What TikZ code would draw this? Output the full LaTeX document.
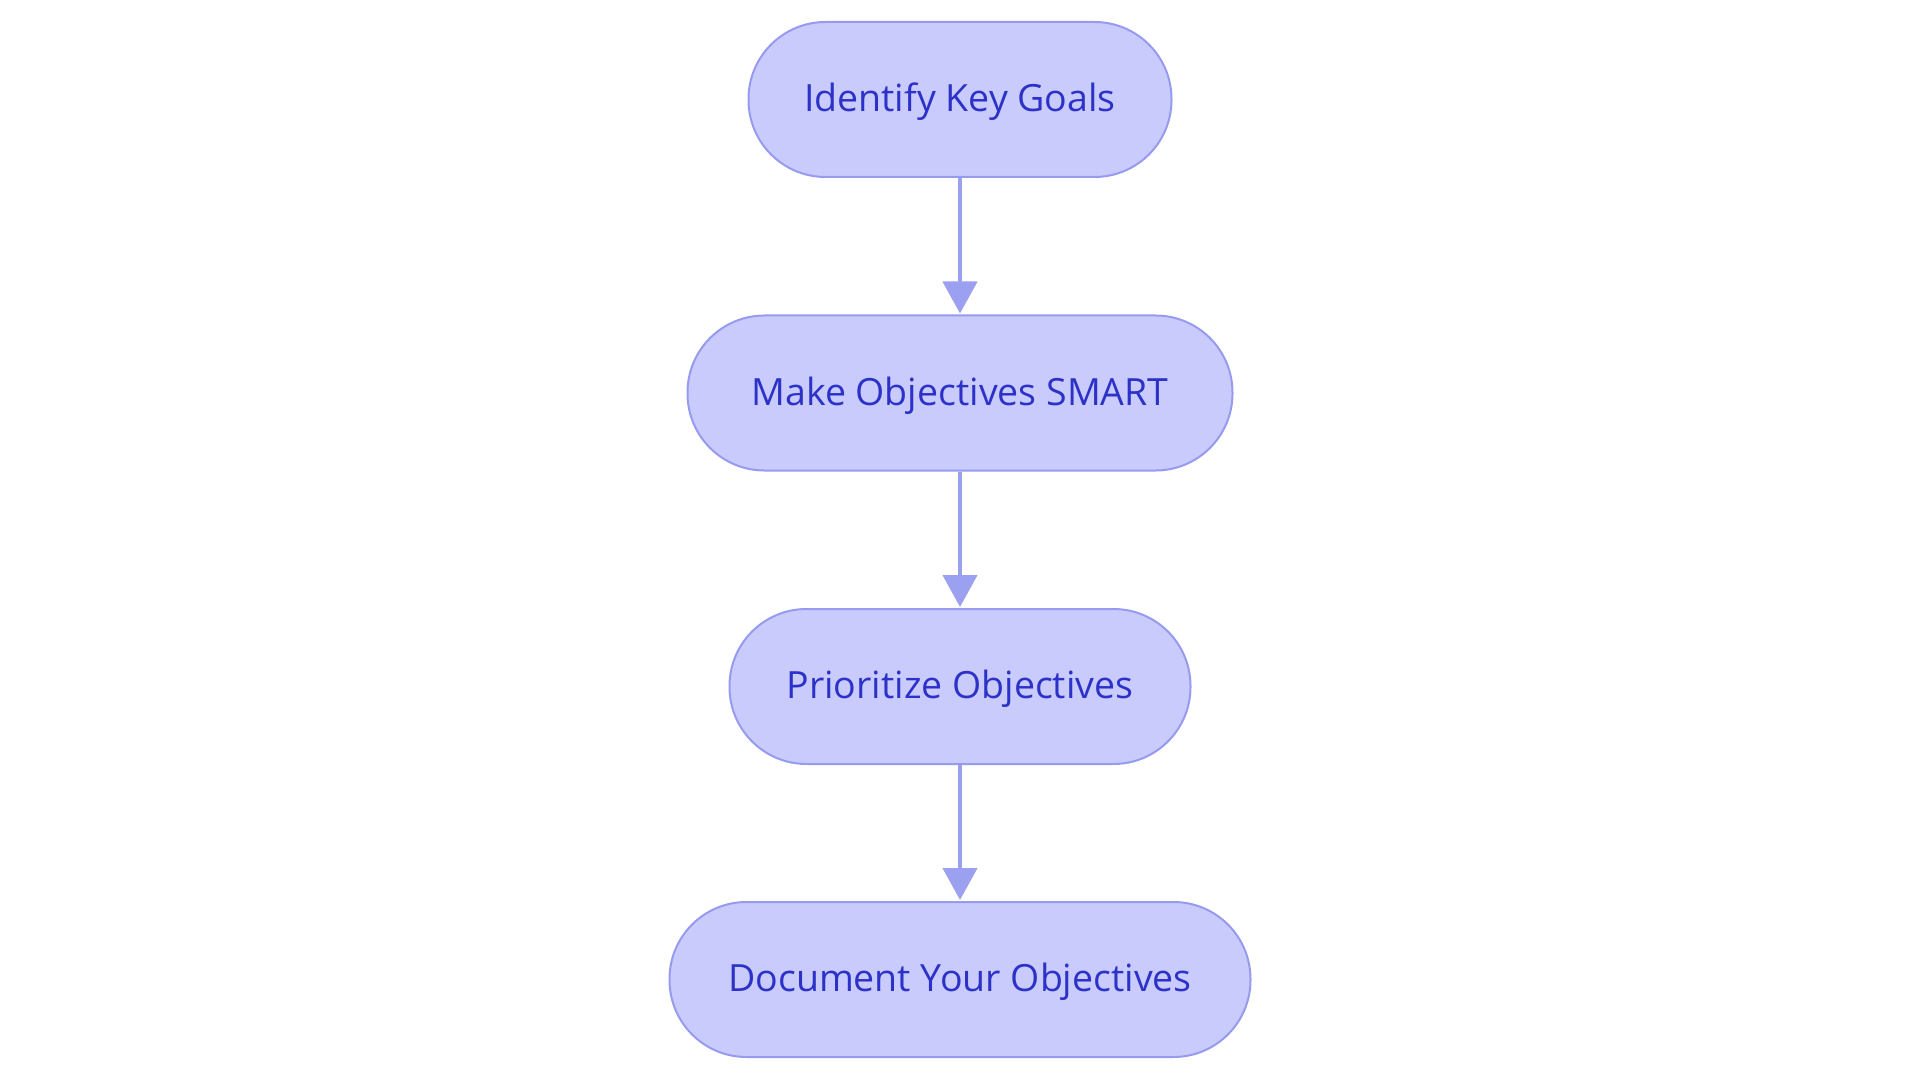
\documentclass[tikz,border=0pt]{standalone}
\usepackage{fontspec}
\setmainfont{Open Sans}
\usetikzlibrary{arrows.meta}
\definecolor{boxfill}{RGB}{201,203,252}
\definecolor{boxline}{RGB}{150,155,238}
\definecolor{boxtext}{RGB}{44,50,200}
\definecolor{arrowcol}{RGB}{155,160,240}
\tikzset{
  stadium/.style={draw=boxline, fill=boxfill, line width=2pt, rectangle,
    rounded corners=77pt, minimum height=155pt, inner sep=0pt,
    text height=28pt, text depth=4pt,
    text=boxtext, font=\fontsize{37.5}{44}\selectfont},
  flow/.style={draw=arrowcol, line width=4.5pt,
    -{Triangle[width=34pt,length=32pt]}, shorten >=1pt}
}
\begin{document}
\begin{tikzpicture}[x=1pt,y=-1pt]
\useasboundingbox (0,0) rectangle (1920,1083);
\node[stadium, minimum width=423pt] (n1) at (960,99.5) {Identify Key Goals};
\node[stadium, minimum width=545pt] (n2) at (960,393) {Make Objectives SMART};
\node[stadium, minimum width=461pt] (n3) at (960,686.5) {Prioritize Objectives};
\node[stadium, minimum width=581pt] (n4) at (960,979.5) {Document Your Objectives};
\draw[flow] (n1) -- (n2);
\draw[flow] (n2) -- (n3);
\draw[flow] (n3) -- (n4);
\end{tikzpicture}
\end{document}
